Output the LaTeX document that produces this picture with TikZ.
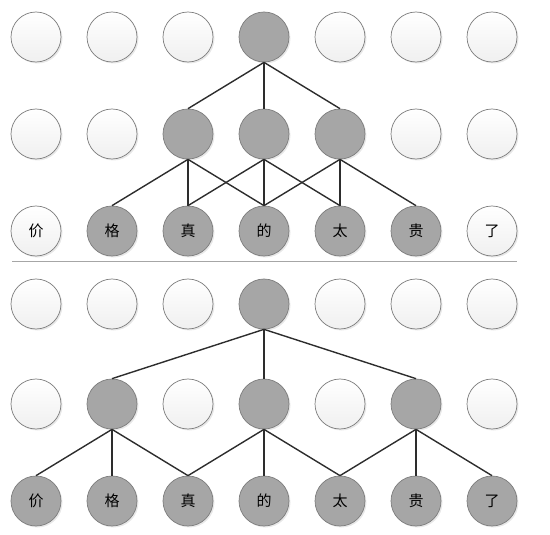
\documentclass[tikz,border=0pt]{standalone}
\usepackage{fontspec}
\newfontfamily\cjk{Noto Sans CJK SC}
\usetikzlibrary{shadows}
\definecolor{nodegray}{RGB}{166,166,166}
\definecolor{edgegray}{RGB}{125,125,125}
\definecolor{linedark}{RGB}{45,45,45}
\tikzset{
  cbase/.style={circle, minimum size=50pt, inner sep=0pt, draw=edgegray, line width=0.7pt,
    font=\cjk\fontsize{15}{15}\selectfont,
    drop shadow={shadow xshift=1.5pt, shadow yshift=-1.5pt, fill=black!15, opacity=0.6}},
  wnode/.style={cbase, top color=white, bottom color=black!6},
  gnode/.style={cbase, fill=nodegray},
  link/.style={draw=linedark, line width=1.4pt}
}
\begin{document}
\begin{tikzpicture}[x=1pt,y=-1pt]
\useasboundingbox (0,0) rectangle (550,535);
% top part
\node[wnode] (a11) at (36,37) {};
\node[wnode] (a12) at (112,37) {};
\node[wnode] (a13) at (188,37) {};
\node[gnode] (a14) at (264,37) {};
\node[wnode] (a15) at (340,37) {};
\node[wnode] (a16) at (416,37) {};
\node[wnode] (a17) at (492,37) {};
\node[wnode] (a21) at (36,134) {};
\node[wnode] (a22) at (112,134) {};
\node[gnode] (a23) at (188,134) {};
\node[gnode] (a24) at (264,134) {};
\node[gnode] (a25) at (340,134) {};
\node[wnode] (a26) at (416,134) {};
\node[wnode] (a27) at (492,134) {};
\node[wnode] (a31) at (36,231) {价};
\node[gnode] (a32) at (112,231) {格};
\node[gnode] (a33) at (188,231) {真};
\node[gnode] (a34) at (264,231) {的};
\node[gnode] (a35) at (340,231) {太};
\node[gnode] (a36) at (416,231) {贵};
\node[wnode] (a37) at (492,231) {了};
\draw[link] (a14.south) -- (a23.north);
\draw[link] (a14.south) -- (a24.north);
\draw[link] (a14.south) -- (a25.north);
\draw[link] (a23.south) -- (a32.north);
\draw[link] (a23.south) -- (a33.north);
\draw[link] (a23.south) -- (a34.north);
\draw[link] (a24.south) -- (a33.north);
\draw[link] (a24.south) -- (a34.north);
\draw[link] (a24.south) -- (a35.north);
\draw[link] (a25.south) -- (a34.north);
\draw[link] (a25.south) -- (a35.north);
\draw[link] (a25.south) -- (a36.north);
% separator
\coordinate (sepL) at (12,261);
\coordinate (sepR) at (517,261);
\draw[black!35, line width=0.8pt] (sepL) -- (sepR);
% bottom part
\node[wnode] (b11) at (36,304) {};
\node[wnode] (b12) at (112,304) {};
\node[wnode] (b13) at (188,304) {};
\node[gnode] (b14) at (264,304) {};
\node[wnode] (b15) at (340,304) {};
\node[wnode] (b16) at (416,304) {};
\node[wnode] (b17) at (492,304) {};
\node[wnode] (b21) at (36,404) {};
\node[gnode] (b22) at (112,404) {};
\node[wnode] (b23) at (188,404) {};
\node[gnode] (b24) at (264,404) {};
\node[wnode] (b25) at (340,404) {};
\node[gnode] (b26) at (416,404) {};
\node[wnode] (b27) at (492,404) {};
\node[gnode] (b31) at (36,501) {价};
\node[gnode] (b32) at (112,501) {格};
\node[gnode] (b33) at (188,501) {真};
\node[gnode] (b34) at (264,501) {的};
\node[gnode] (b35) at (340,501) {太};
\node[gnode] (b36) at (416,501) {贵};
\node[gnode] (b37) at (492,501) {了};
\draw[link] (b14.south) -- (b22.north);
\draw[link] (b14.south) -- (b24.north);
\draw[link] (b14.south) -- (b26.north);
\draw[link] (b22.south) -- (b31.north);
\draw[link] (b22.south) -- (b32.north);
\draw[link] (b22.south) -- (b33.north);
\draw[link] (b24.south) -- (b33.north);
\draw[link] (b24.south) -- (b34.north);
\draw[link] (b24.south) -- (b35.north);
\draw[link] (b26.south) -- (b35.north);
\draw[link] (b26.south) -- (b36.north);
\draw[link] (b26.south) -- (b37.north);
\end{tikzpicture}
\end{document}
